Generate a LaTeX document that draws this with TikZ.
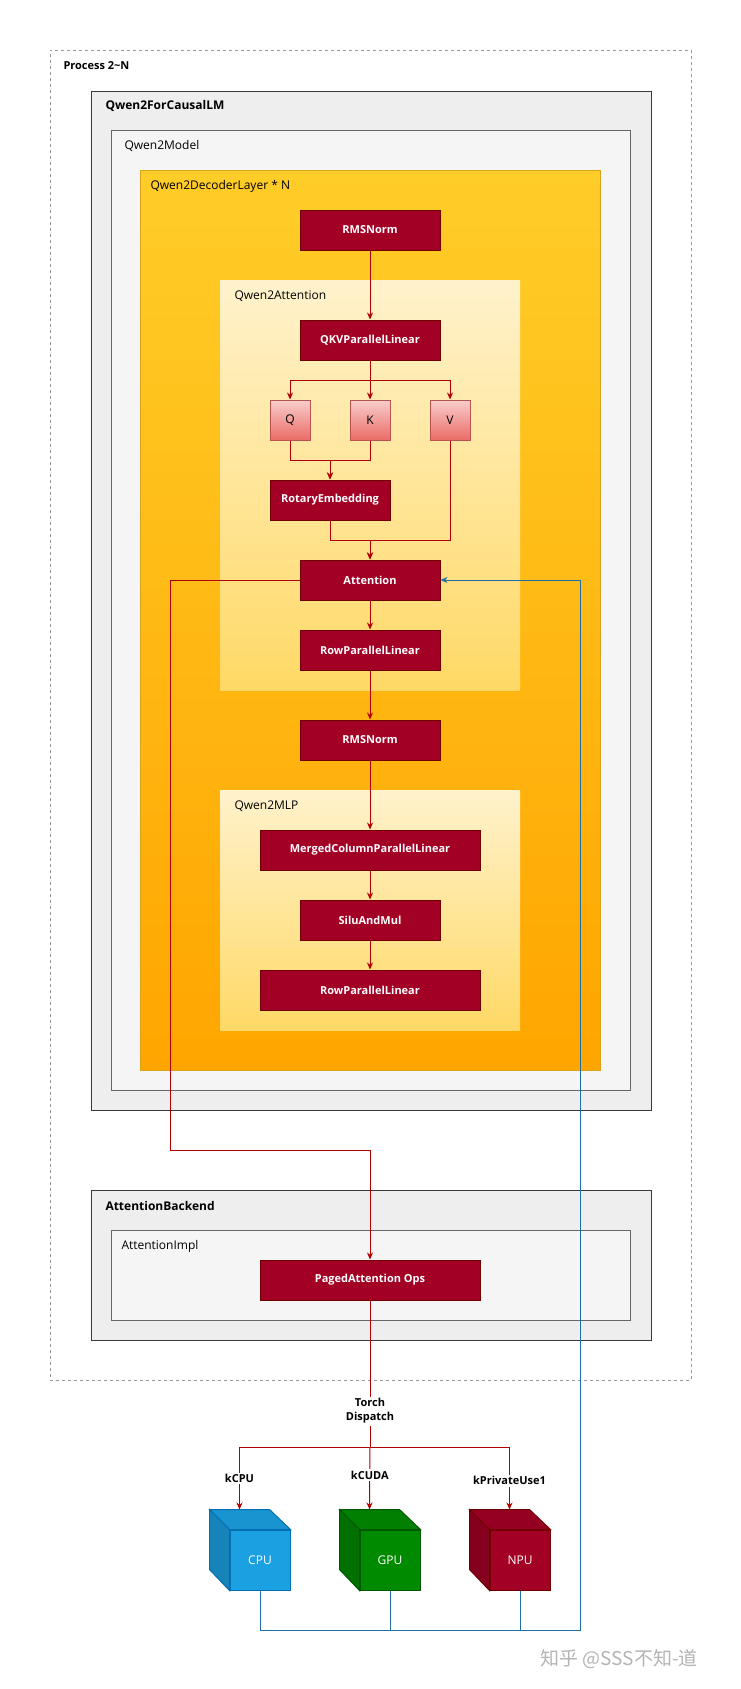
\documentclass[tikz,border=0pt]{standalone}
\usepackage{fontspec}
\setmainfont{Open Sans}
\newfontfamily\cjkfont{Noto Sans CJK SC}
\usepackage{tikz}
\usetikzlibrary{arrows.meta, positioning, calc}

\definecolor{opred}{HTML}{A20025}
\definecolor{opedge}{HTML}{6F0000}
\definecolor{flowred}{HTML}{B20000}
\definecolor{retblue}{HTML}{1F6EA8}
\definecolor{outergray}{HTML}{EEEEEE}
\definecolor{outeredge}{HTML}{36393D}
\definecolor{innergray}{HTML}{F5F5F5}
\definecolor{inneredge}{HTML}{666666}
\definecolor{orangetop}{HTML}{FFCD28}
\definecolor{orangebot}{HTML}{FFA500}
\definecolor{orangeedge}{HTML}{D9A21B}
\definecolor{paletop}{HTML}{FFF2CC}
\definecolor{palebot}{HTML}{FFD966}
\definecolor{pinktop}{HTML}{F8CECC}
\definecolor{pinkbot}{HTML}{EA6B66}
\definecolor{pinkedge}{HTML}{B85450}
\definecolor{cpublue}{HTML}{1BA1E2}
\definecolor{cpuedge}{HTML}{006EAF}
\definecolor{gpugreen}{HTML}{008A00}
\definecolor{gpuedge}{HTML}{005700}
\definecolor{markgray}{HTML}{B4B4B4}

\begin{document}
\begin{tikzpicture}[x=1pt, y=-1pt, line width=1pt,
  procbox/.style={draw=gray!80, dash pattern=on 3pt off 3pt, line width=0.8pt},
  outerbox/.style={draw=outeredge, fill=outergray},
  innerbox/.style={draw=inneredge, fill=innergray},
  decbox/.style={draw=orangeedge, top color=orangetop, bottom color=orangebot},
  subbox/.style={draw=none, top color=paletop, bottom color=palebot},
  opbox/.style={draw=opedge, fill=opred, text=white, minimum width=140pt, minimum height=40pt, inner sep=0pt, font=\fontsize{11}{13}\selectfont\bfseries},
  widebox/.style={opbox, minimum width=220pt},
  qkvbox/.style={draw=pinkedge, top color=pinktop, bottom color=pinkbot, minimum width=40pt, minimum height=40pt, inner sep=0pt, font=\fontsize{12}{14}\selectfont},
  lbl/.style={anchor=west, inner sep=0pt, font=\fontsize{12}{14}\selectfont},
  boldlbl/.style={lbl, font=\fontsize{12}{14}\selectfont\bfseries},
  tag/.style={fill=white, inner sep=1.5pt, align=center, font=\fontsize{11}{14}\selectfont\bfseries},
  devfront/.style={minimum width=60pt, minimum height=60pt, inner sep=0pt, text=white, font=\fontsize{12}{14}\selectfont},
  flow/.style={draw=flowred, -{Stealth[length=7pt, width=6pt]}},
  wire/.style={draw=flowred},
  ret/.style={draw=retblue}]

  \useasboundingbox[fill=white] (0,0) rectangle (741,1689);

  % Process container
  \node[procbox, minimum width=641pt, minimum height=1330pt] (proc) at (370.5,715) {};
  \node[boldlbl, font=\fontsize{11}{13}\selectfont\bfseries] (proclbl) at (63,66) {Process 2\textasciitilde N};

  % Qwen2ForCausalLM
  \node[outerbox, minimum width=560pt, minimum height=1019pt] (causal) at (371,600.5) {};
  \node[boldlbl] (causallbl) at (105,106) {Qwen2ForCausalLM};

  % Qwen2Model
  \node[innerbox, minimum width=519pt, minimum height=960pt] (model) at (370.5,610) {};
  \node[lbl] (modellbl) at (124,146) {Qwen2Model};

  % Decoder layer
  \node[decbox, minimum width=460pt, minimum height=900pt] (dec) at (370,620) {};
  \node[lbl] (declbl) at (150,186) {Qwen2DecoderLayer * N};

  % Attention block
  \node[subbox, minimum width=300pt, minimum height=410pt] (attbox) at (370,485) {};
  \node[lbl] (attlbl) at (234,296) {Qwen2Attention};

  % MLP block
  \node[subbox, minimum width=300pt, minimum height=240pt] (mlpbox) at (370,910) {};
  \node[lbl] (mlplbl) at (234,806) {Qwen2MLP};

  % Backend
  \node[outerbox, minimum width=560pt, minimum height=150pt] (backend) at (371,1265) {};
  \node[boldlbl] (backendlbl) at (105,1206) {AttentionBackend};
  \node[innerbox, minimum width=519pt, minimum height=90pt] (impl) at (370.5,1275) {};
  \node[lbl] (impllbl) at (121,1246) {AttentionImpl};

  % Layer ops
  \node[opbox] (rms1) at (370,230) {RMSNorm};
  \node[opbox] (qkv) at (370,340) {QKVParallelLinear};
  \node[qkvbox] (q) at (290,420) {Q};
  \node[qkvbox] (k) at (370,420) {K};
  \node[qkvbox] (v) at (450,420) {V};
  \node[opbox, minimum width=120pt] (rope) at (330,500) {RotaryEmbedding};
  \node[opbox] (attn) at (370,580) {Attention};
  \node[opbox] (row1) at (370,650) {RowParallelLinear};
  \node[opbox] (rms2) at (370,740) {RMSNorm};
  \node[widebox] (merged) at (370,850) {MergedColumnParallelLinear};
  \node[opbox] (silu) at (370,920) {SiluAndMul};
  \node[widebox] (row2) at (370,990) {RowParallelLinear};
  \node[widebox] (paged) at (370,1280) {PagedAttention Ops};

  % Devices
  \node[devfront, fill=cpublue, draw=cpuedge] (cpu) at (260,1560) {CPU};
  \filldraw[fill=cpublue!92!black, draw=cpuedge] (cpu.north west) -- ++(-20,-20) -- ++(60,0) -- (cpu.north east) -- cycle;
  \filldraw[fill=cpublue!82!black, draw=cpuedge] (cpu.north west) -- ++(-20,-20) -- ++(0,60) -- (cpu.south west) -- cycle;

  \node[devfront, fill=gpugreen, draw=gpuedge] (gpu) at (390,1560) {GPU};
  \filldraw[fill=gpugreen!92!black, draw=gpuedge] (gpu.north west) -- ++(-20,-20) -- ++(60,0) -- (gpu.north east) -- cycle;
  \filldraw[fill=gpugreen!82!black, draw=gpuedge] (gpu.north west) -- ++(-20,-20) -- ++(0,60) -- (gpu.south west) -- cycle;

  \node[devfront, fill=opred, draw=opedge] (npu) at (520,1560) {NPU};
  \filldraw[fill=opred!92!black, draw=opedge] (npu.north west) -- ++(-20,-20) -- ++(60,0) -- (npu.north east) -- cycle;
  \filldraw[fill=opred!82!black, draw=opedge] (npu.north west) -- ++(-20,-20) -- ++(0,60) -- (npu.south west) -- cycle;

  % Layer flow
  \draw[flow] (rms1) -- (qkv);
  \draw[flow] (qkv.south) -- ++(0,20) -| (q.north);
  \draw[flow] (qkv) -- (k);
  \draw[flow] (qkv.south) -- ++(0,20) -| (v.north);
  \draw[flow] (q.south) -- ++(0,20) -| (rope.north);
  \draw[flow] (k.south) -- ++(0,20) -| (rope.north);
  \draw[flow] (rope.south) -- ++(0,20) -| (attn.north);
  \draw[flow] (v.south) -- ++(0,100) -| (attn.north);
  \draw[flow] (attn) -- (row1);
  \draw[flow] (row1) -- (rms2);
  \draw[flow] (rms2) -- (merged);
  \draw[flow] (merged) -- (silu);
  \draw[flow] (silu) -- (row2);

  % Attention to backend
  \coordinate (detour) at (170,1150);
  \draw[flow] (attn.west) -| (detour) -| (paged.north);

  % Dispatch
  \node[tag] (disp) at (370,1411) {Torch\\Dispatch};
  \coordinate (fork) at (370,1447);
  \coordinate (cpuin) at ($(cpu.north west)+(10,-20)$);
  \coordinate (gpuin) at ($(gpu.north west)+(10,-20)$);
  \coordinate (npuin) at ($(npu.north west)+(20,-20)$);
  \draw[wire] (paged) -- (disp);
  \draw[wire] (disp) -- (fork);
  \draw[flow] (fork) -| node[tag, pos=0.75] (kcpu) {kCPU} (cpuin);
  \draw[flow] (fork) -- node[tag, pos=0.45] (kcuda) {kCUDA} (gpuin);
  \draw[flow] (fork) -| node[tag, pos=0.77] (kpriv) {kPrivateUse1} (npuin);

  % Results back to attention
  \coordinate (retc) at (580,1630);
  \draw[ret] (gpu.south) -- (gpu.south |- retc);
  \draw[ret] (npu.south) -- (npu.south |- retc);
  \draw[ret, -{Stealth[length=7pt, width=6pt]}] (cpu.south) |- (retc) |- (attn.east);

  % Watermark
  \node[anchor=west, inner sep=0pt, text=markgray, font=\cjkfont\fontsize{19}{21}\selectfont] (mark) at (540,1659) {知乎 @SSS不知-道};
\end{tikzpicture}
\end{document}
